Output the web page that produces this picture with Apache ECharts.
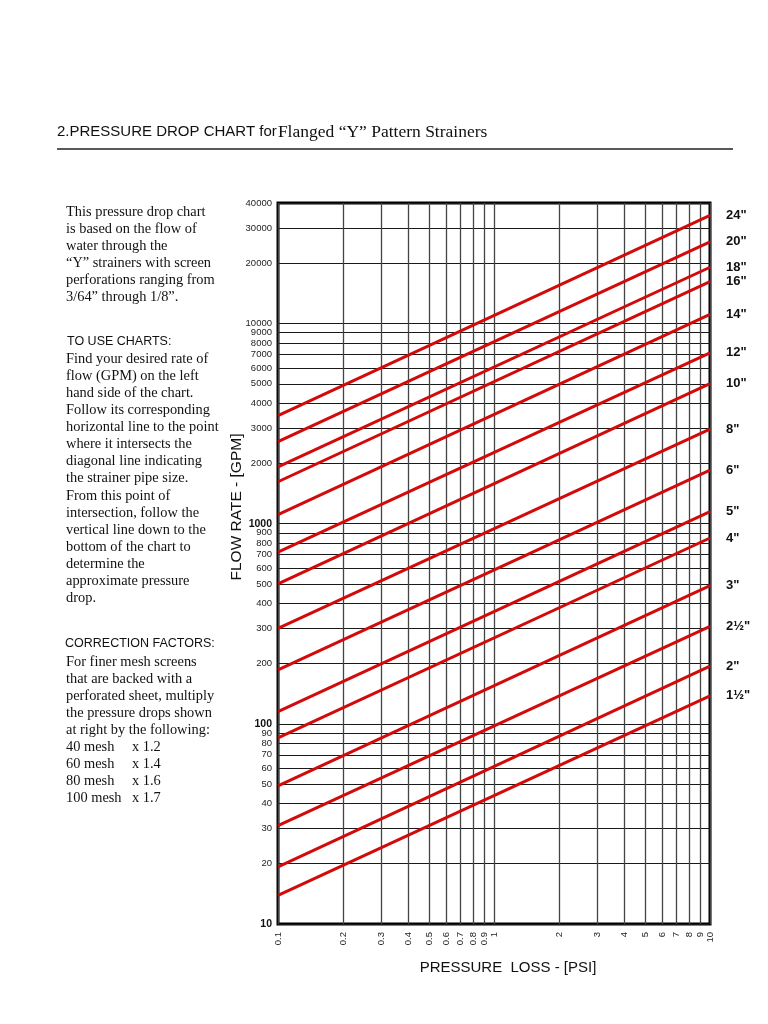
<!DOCTYPE html>
<html><head><meta charset="utf-8">
<script src="https://cdn.jsdelivr.net/npm/echarts@6/dist/echarts.min.js"></script>
<style>html,body{margin:0;padding:0;background:#fff}#c{width:768px;height:1024px}</style>
</head><body><div id="c"></div>
<script>
// ---- data ----
const pipeSizes = ['24"', '20"', '18"', '16"', '14"', '12"', '10"', '8"', '6"', '5"', '4"', '3"', '2½"', '2"', '1½"'];
const psiRange = [0.1, 10];
const flowAtMinPsi = [3470, 2570, 1920, 1620, 1110, 720, 500, 300, 186, 115, 85, 49, 31, 19.3, 13.9];
const flowAtMaxPsi = [34700, 25600, 19100, 16200, 11100, 7130, 5010, 2970, 1850, 1150, 848, 490, 307, 194, 138];
const xTickValues = [0.1, 0.2, 0.3, 0.4, 0.5, 0.6, 0.7, 0.8, 0.9, 1, 2, 3, 4, 5, 6, 7, 8, 9, 10];
const yTickValues = [10, 20, 30, 40, 50, 60, 70, 80, 90, 100, 200, 300, 400, 500, 600, 700, 800, 900,
  1000, 2000, 3000, 4000, 5000, 6000, 7000, 8000, 9000, 10000, 20000, 30000, 40000];
const boldYLabels = [10, 100, 1000];

const introText = ['This pressure drop chart', 'is based on the flow of', 'water through the',
  '\u201CY\u201D strainers with screen', 'perforations ranging from', '3/64\u201D through 1/8\u201D.'];
const useText = ['Find your desired rate of', 'flow (GPM) on the left', 'hand side of the chart.',
  'Follow its corresponding', 'horizontal line to the point', 'where it intersects the',
  'diagonal line indicating', 'the strainer pipe size.', 'From this point of',
  'intersection, follow the', 'vertical line down to the', 'bottom of the chart to',
  'determine the', 'approximate pressure', 'drop.'];
const corrText = ['For finer mesh screens', 'that are backed with a', 'perforated sheet, multiply',
  'the pressure drops shown', 'at right by the following:'];
const meshNames = ['40 mesh', '60 mesh', '80 mesh', '100 mesh'];
const meshFactors = ['x 1.2', 'x 1.4', 'x 1.6', 'x 1.7'];

const chart = echarts.init(document.getElementById('c'), null, {renderer: 'canvas'});
const RED = '#d20a0a';
const LH = 17.1;
const serif = '"Liberation Serif", "Times New Roman", serif';
const sans = '"Liberation Sans", Arial, sans-serif';
const BODY = 14.4;

const series = pipeSizes.map((name, i) => ({
  type: 'line',
  name: name,
  data: [[psiRange[0], flowAtMinPsi[i]], [psiRange[1], flowAtMaxPsi[i]]],
  symbol: 'none',
  lineStyle: {color: RED, width: 3},
  itemStyle: {color: RED},
  silent: true,
  clip: false,
  endLabel: {
    show: true, formatter: name, distance: 16,
    fontFamily: sans, fontWeight: 'bold', fontSize: 13, color: '#111'
  }
}));

function textBlock(lines, x, y, font, size) {
  return {type: 'text', left: x, top: y, style: {
    text: lines.join('\n'), fontFamily: font, fontSize: size, lineHeight: LH, fill: '#111'
  }};
}

const graphics = [
  {type: 'text', left: 57, top: 123, style: {
    text: '{a|2.PRESSURE DROP CHART for} {b|Flanged \u201CY\u201D Pattern Strainers}',
    fontSize: 4,
    rich: {a: {fontFamily: sans, fontSize: 15, fill: '#111'}, b: {fontFamily: serif, fontSize: 17.5, fill: '#111'}}
  }},
  {type: 'line', shape: {x1: 57, y1: 149, x2: 733, y2: 149}, style: {stroke: '#222', lineWidth: 1.5}},
  textBlock(introText, 66, 212 - LH / 2, serif, BODY),
  textBlock(['TO USE CHARTS:'], 67, 342 - LH / 2, sans, 12.5),
  textBlock(useText, 66, 359 - LH / 2, serif, BODY),
  textBlock(['CORRECTION FACTORS:'], 65, 644 - LH / 2, sans, 12.5),
  textBlock(corrText, 66, 662 - LH / 2, serif, BODY),
  textBlock(meshNames, 66, 747 - LH / 2, serif, BODY),
  textBlock(meshFactors, 132, 747 - LH / 2, serif, BODY),
  {type: 'text', x: 237, y: 507, rotation: Math.PI / 2, style: {
    text: 'FLOW RATE - [GPM]', fontFamily: sans, fontSize: 15.5, fill: '#111', align: 'center', verticalAlign: 'middle'
  }},
  {type: 'text', x: 508, y: 968, style: {
    text: 'PRESSURE  LOSS - [PSI]', fontFamily: sans, fontSize: 15, fill: '#111', align: 'center', verticalAlign: 'middle'
  }}
];

chart.setOption({
  animation: false,
  backgroundColor: '#fff',
  grid: {left: 278, right: 58, top: 203, bottom: 100, show: true, borderColor: '#000', borderWidth: 3, containLabel: false},
  xAxis: {
    type: 'log', logBase: 10, min: psiRange[0], max: psiRange[1],
    axisLine: {show: false},
    axisTick: {show: false, customValues: xTickValues},
    axisLabel: {customValues: xTickValues, rotate: 90, margin: 8, fontFamily: sans, fontSize: 9.5, color: '#222',
      formatter: v => String(Math.round(v * 1000) / 1000)},
    splitLine: {show: true, lineStyle: {color: '#444', width: 1.3}},
    minorTick: {show: false}, minorSplitLine: {show: false}
  },
  yAxis: {
    type: 'log', logBase: 10, min: 10, max: 40000,
    axisLine: {show: false},
    axisTick: {show: false, customValues: yTickValues},
    axisLabel: {customValues: yTickValues, margin: 6, fontFamily: sans, fontSize: 9.5, color: '#222',
      formatter: v => { const r = Math.round(v); return boldYLabels.includes(r) ? '{b|' + r + '}' : String(r); },
      rich: {b: {fontWeight: 'bold', fontSize: 10.5, color: '#111', fontFamily: sans}}},
    splitLine: {show: true, lineStyle: {color: '#1a1a1a', width: 1.2}},
    minorTick: {show: false}, minorSplitLine: {show: false}
  },
  series: series,
  graphic: graphics
});
</script></body></html>
